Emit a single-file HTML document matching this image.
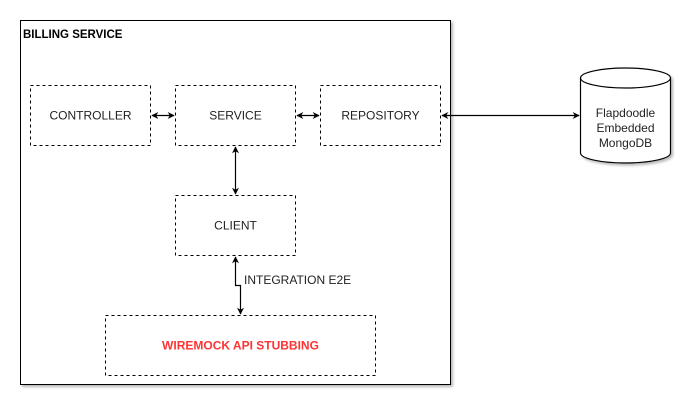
<!DOCTYPE html>
<html><head><meta charset="utf-8"><style>
body{margin:0;background:#fff;}
svg text{font-family:"Liberation Sans",Arial,sans-serif;}
</style></head><body>
<svg width="697" height="412" viewBox="0 0 697 412" xmlns="http://www.w3.org/2000/svg">
<defs>
<marker id="a" viewBox="0 0 10 10" refX="9" refY="5" markerWidth="7" markerHeight="7" orient="auto-start-reverse" markerUnits="userSpaceOnUse">
<path d="M0,0 L10,5 L0,10 L3,5 z" fill="#000"/></marker>
<filter id="sh" x="-5%" y="-5%" width="110%" height="110%"><feDropShadow dx="2" dy="2" stdDeviation="1.2" flood-color="#888" flood-opacity="0.6"/></filter>
</defs>
<rect x="20.5" y="20.5" width="430" height="364" fill="#fff" stroke="#000" filter="url(#sh)"/>
<text x="23" y="38" font-size="11.5" font-weight="bold" fill="#000">BILLING SERVICE</text>
<g fill="none" stroke="#000" stroke-dasharray="3,3">
<rect x="30.5" y="85.5" width="120" height="60"/>
<rect x="175.5" y="85.5" width="120" height="60"/>
<rect x="320.5" y="85.5" width="120" height="60"/>
<rect x="175.5" y="195.5" width="120" height="60"/>
<rect x="105.5" y="315.5" width="270" height="60"/>
</g>
<g font-size="12" fill="#222" text-anchor="middle">
<text x="90.5" y="119.5">CONTROLLER</text>
<text x="235.5" y="119.5">SERVICE</text>
<text x="380.5" y="119.5">REPOSITORY</text>
<text x="235.5" y="229.5">CLIENT</text>
<text x="240.5" y="349.5" font-weight="bold" fill="#ff3333">WIREMOCK API STUBBING</text>
</g>
<g stroke="#000" fill="none" stroke-width="1.2">
<line x1="152" y1="115.5" x2="174" y2="115.5" marker-start="url(#a)" marker-end="url(#a)"/>
<line x1="297" y1="115.5" x2="319" y2="115.5" marker-start="url(#a)" marker-end="url(#a)"/>
<line x1="442" y1="115.5" x2="579" y2="115.5" marker-start="url(#a)" marker-end="url(#a)"/>
<line x1="235.5" y1="147" x2="235.5" y2="194" marker-start="url(#a)" marker-end="url(#a)"/>
<path d="M235.5,257 V285.5 H240.5 V314" marker-start="url(#a)" marker-end="url(#a)"/>
</g>
<text x="244" y="284" font-size="12" fill="#222">INTEGRATION E2E</text>
<g stroke="#000" fill="#fff" stroke-width="1.2" filter="url(#sh)">
<path d="M580.5,78 V153 A45,10 0 0 0 670.5,153 V78 A45,10 0 0 0 580.5,78 z"/>
</g>
<path d="M580.5,78 A45,10 0 0 0 670.5,78" stroke="#000" fill="none" stroke-width="1.2"/>
<g font-size="12" fill="#222" text-anchor="middle">
<text x="625.5" y="117">Flapdoodle</text>
<text x="625.5" y="132">Embedded</text>
<text x="625.5" y="147">MongoDB</text>
</g>
</svg>
</body></html>
